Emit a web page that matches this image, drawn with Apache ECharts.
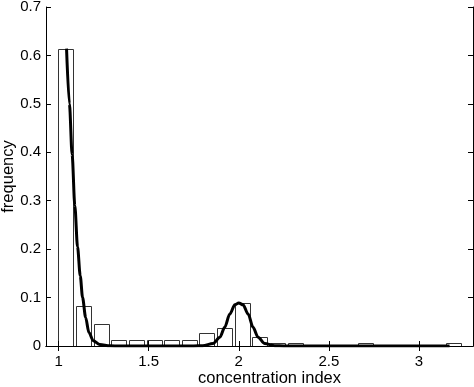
<!DOCTYPE html>
<html>
<head>
<meta charset="utf-8">
<script src="https://cdn.jsdelivr.net/npm/echarts@6/dist/echarts.min.js"></script>
<style>
html,body{margin:0;padding:0;background:#fff;}
#c{width:474px;height:387px;}
</style>
</head>
<body>
<div id="c"></div>
<script>
// Histogram bins (centers) and frequencies
const binCenters = [1.039, 1.137, 1.235, 1.333, 1.431, 1.529, 1.626, 1.724, 1.822, 1.920, 2.018, 2.116, 2.214, 2.312, 2.703, 3.190];
const binFreq    = [0.613, 0.083, 0.045, 0.012, 0.012, 0.012, 0.012, 0.012, 0.026, 0.038, 0.089, 0.019, 0.006, 0.006, 0.006, 0.006];
const binWidth = 0.082;

// Fitted curve points
const curveX = [1.044, 1.06, 1.075, 1.09, 1.105, 1.12, 1.133, 1.150, 1.168, 1.192, 1.229, 1.285, 1.34, 1.75, 1.80, 1.857, 1.895, 1.922, 1.95, 1.978, 2.0, 2.024, 2.052, 2.079, 2.107, 2.144, 2.2, 2.25, 3.17];
const curveY = [0.614, 0.50, 0.395, 0.29, 0.205, 0.145, 0.100, 0.059, 0.028, 0.011, 0.003, 0.0005, 0, 0, 0.0006, 0.005, 0.018, 0.0385, 0.066, 0.085, 0.089, 0.085, 0.066, 0.0385, 0.018, 0.005, 0.0006, 0, 0];

const xTicks = [1, 1.5, 2, 2.5, 3];
const xLabel = 'concentration index';
const yLabel = 'frequency';

const FONT = '"Liberation Sans", Arial, Helvetica, sans-serif';
const chart = echarts.init(document.getElementById('c'), null, {renderer: 'canvas'});

const axisLine = {show: true, lineStyle: {color: '#000', width: 1}};
const tickIn = {show: true, inside: true, length: 5, lineStyle: {color: '#000', width: 1}};

chart.setOption({
  animation: false,
  backgroundColor: '#fff',
  grid: {left: 46, right: 1, top: 7, bottom: 41, containLabel: false, outerBoundsMode: 'none'},
  xAxis: [
    {
      type: 'value', position: 'bottom', min: 0.93, max: 3.3, z: 5,
      axisLine: axisLine,
      axisTick: Object.assign({}, tickIn, {customValues: xTicks}),
      axisLabel: {customValues: xTicks, color: '#000', fontSize: 15, fontFamily: FONT, margin: 8,
        formatter: v => String(v)},
      splitLine: {show: false},
      name: xLabel, nameLocation: 'middle', nameGap: 24, nameMoveOverlap: false,
      nameTextStyle: {color: '#000', fontSize: 16.5, fontFamily: FONT, padding: [0, 0, 0, 20]}
    },
    {
      type: 'value', position: 'top', min: 0.93, max: 3.3, z: 5,
      axisLine: axisLine,
      axisTick: Object.assign({}, tickIn, {customValues: xTicks}),
      axisLabel: {show: false},
      splitLine: {show: false}
    }
  ],
  yAxis: [
    {
      type: 'value', position: 'left', min: 0, max: 0.7, interval: 0.1, z: 5,
      axisLine: axisLine,
      axisTick: tickIn,
      axisLabel: {color: '#000', fontSize: 15, fontFamily: FONT, margin: 5,
        formatter: v => String(Math.round(v * 10) / 10)},
      splitLine: {show: false},
      name: yLabel, nameLocation: 'middle', nameGap: 29, nameMoveOverlap: false,
      nameTextStyle: {color: '#000', fontSize: 16.5, fontFamily: FONT}
    },
    {
      type: 'value', position: 'right', min: 0, max: 0.7, interval: 0.1, z: 5,
      axisLine: axisLine,
      axisTick: tickIn,
      axisLabel: {show: false},
      splitLine: {show: false}
    }
  ],
  series: [
    {
      type: 'custom',
      xAxisIndex: 0, yAxisIndex: 0,
      data: binCenters.map((c, i) => [c, binFreq[i]]),
      renderItem: function (params, api) {
        const x = api.value(0), h = api.value(1);
        const p0 = api.coord([x - binWidth / 2, h]);
        const p1 = api.coord([x + binWidth / 2, 0]);
        return {
          type: 'rect',
          shape: {x: Math.round(p0[0]) + 0.5, y: Math.round(p0[1]) + 0.5,
                  width: Math.round(p1[0] - p0[0]), height: Math.round(p1[1] - p0[1])},
          style: {fill: '#fff', stroke: '#333', lineWidth: 1}
        };
      },
      z: 2
    },
    {
      type: 'line',
      xAxisIndex: 0, yAxisIndex: 0,
      data: curveX.map((x, i) => [x, curveY[i]]),
      showSymbol: false,
      smooth: 0.3,
      smoothMonotone: 'x',
      lineStyle: {color: '#000', width: 3},
      z: 3
    }
  ]
});
</script>
</body>
</html>
